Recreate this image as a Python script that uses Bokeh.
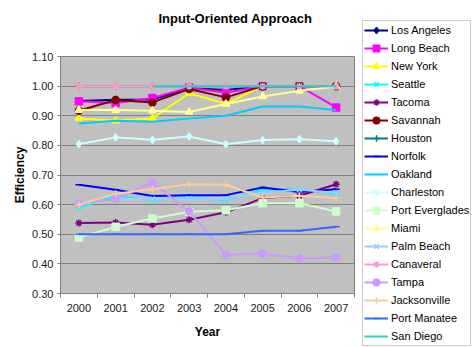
from bokeh.plotting import figure
from bokeh.layouts import row, column
from bokeh.models import Range1d, FixedTicker, Legend, LegendItem, NumeralTickFormatter, Title
from bokeh.embed import file_html
from bokeh.resources import INLINE

nan = float("nan")
years = [2000, 2001, 2002, 2003, 2004, 2005, 2006, 2007]
y_ticks = [0.30, 0.40, 0.50, 0.60, 0.70, 0.80, 0.90, 1.00, 1.10]

los_angeles = [0.950, 0.954, 0.955, 0.993, 0.987, 1.000, 1.000, 1.000]
long_beach = [0.949, 0.943, 0.960, 0.995, 0.978, 1.000, 1.000, 0.928]
new_york = [0.891, 0.883, 0.891, 0.976, 0.940, 1.000, 1.000, 1.000]
seattle = [0.590, 0.630, 0.616, 0.624, 0.615, 0.650, 0.652, 0.637]
tacoma = [0.538, 0.540, 0.532, 0.549, 0.574, 0.622, 0.630, 0.669]
savannah = [0.917, 0.953, 0.945, 0.990, 0.962, 1.000, 1.000, 1.000]
houston = [1.000, 1.000, 1.000, 1.000, 1.000, 1.000, 1.000, 1.000]
norfolk = [0.667, 0.650, 0.629, 0.632, 0.632, 0.658, 0.643, 0.652]
oakland = [0.874, 0.883, 0.880, 0.891, 0.900, 0.931, 0.931, 0.919]
charleston = [0.804, 0.827, 0.819, 0.830, 0.804, 0.818, 0.821, 0.814]
port_everglades = [0.489, 0.525, 0.553, 0.576, 0.581, 0.605, 0.605, 0.577]
miami = [0.919, 0.919, 0.917, 0.913, 0.940, 0.965, 0.984, 0.999]
palm_beach = [0.600, 0.620, 0.620, 0.620, 0.620, 0.640, 0.650, 0.640]
canaveral = [1.000, 1.000, 1.000, 1.000, 1.000, 1.000, 1.000, 1.000]
tampa = [0.605, 0.619, 0.675, 0.577, 0.431, 0.435, 0.418, 0.422]
jacksonville = [0.600, 0.637, 0.652, 0.669, 0.667, 0.624, 0.630, 0.622]
port_manatee = [0.500, 0.500, 0.500, 0.500, 0.500, 0.512, 0.512, 0.525]
san_diego = [nan, nan, 1.000, 1.000, 1.000, 1.000, 1.000, 1.000]

series = [
    ("Los Angeles", los_angeles, "#000080", "diamond"),
    ("Long Beach", long_beach, "#FF00FF", "square"),
    ("New York", new_york, "#FFFF00", "triangle"),
    ("Seattle", seattle, "#00FFFF", "x"),
    ("Tacoma", tacoma, "#800080", "asterisk"),
    ("Savannah", savannah, "#800000", "circle"),
    ("Houston", houston, "#008080", "cross"),
    ("Norfolk", norfolk, "#0000FF", "dash"),
    ("Oakland", oakland, "#00CCFF", None),
    ("Charleston", charleston, "#CCFFFF", "diamond"),
    ("Port Everglades", port_everglades, "#CCFFCC", "square"),
    ("Miami", miami, "#FFFF99", "triangle"),
    ("Palm Beach", palm_beach, "#99CCFF", "x"),
    ("Canaveral", canaveral, "#FF99CC", "asterisk"),
    ("Tampa", tampa, "#CC99FF", "circle"),
    ("Jacksonville", jacksonville, "#FFCC99", "cross"),
    ("Port Manatee", port_manatee, "#3366FF", "dash"),
    ("San Diego", san_diego, "#33CCCC", None),
]

FONT = "Liberation Sans"

p = figure(width=360, height=347, output_backend="svg", toolbar_location=None,
           x_range=Range1d(1999.5, 2007.5), y_range=Range1d(0.30, 1.10),
           min_border_left=60, min_border_right=6, min_border_top=0, min_border_bottom=54,
           background_fill_color="#C0C0C0", border_fill_color="white")

# spacer title next to the frame (keeps the real title high up)
spacer = Title(text=" ", text_font=FONT, text_font_size="13px", standoff=3)
p.add_layout(spacer, "above")

p.title.text = "Input-Oriented Approach"
p.title.align = "left"
p.title.offset = 98
p.title.vertical_align = "middle"
p.title.standoff = 19
p.title.text_font = FONT
p.title.text_font_size = "13px"
p.title.text_font_style = "bold"
p.title.text_color = "#000000"

p.outline_line_color = "#808080"
p.xgrid.grid_line_color = None
p.ygrid.grid_line_color = "#808080"
p.ygrid.grid_line_width = 1

p.xaxis.ticker = FixedTicker(ticks=years, minor_ticks=[1999.5, 2000.5, 2001.5, 2002.5, 2003.5, 2004.5, 2005.5, 2006.5, 2007.5])
p.yaxis.ticker = FixedTicker(ticks=y_ticks)
p.yaxis.formatter = NumeralTickFormatter(format="0.00")

for ax in (p.xaxis, p.yaxis):
    ax.axis_line_color = "#808080"
    ax.major_label_text_font = FONT
    ax.major_label_text_font_size = "11px"
    ax.major_label_text_color = "#1a1a1a"
    ax.axis_label_text_font = FONT
    ax.axis_label_text_font_size = "12px"
    ax.axis_label_text_font_style = "bold"
    ax.axis_label_text_color = "#000000"

p.xaxis.axis_label = "Year"
p.xaxis.major_tick_line_color = None
p.xaxis.minor_tick_line_color = "#808080"
p.xaxis.minor_tick_out = 4
p.xaxis.minor_tick_in = 0
p.xaxis.major_label_standoff = 4
p.xaxis.axis_label_standoff = 10

p.yaxis.axis_label = "Efficiency"
p.yaxis.major_tick_line_color = "#808080"
p.yaxis.major_tick_out = 3
p.yaxis.major_tick_in = 0
p.yaxis.minor_tick_line_color = None
p.yaxis.major_label_standoff = 4
p.yaxis.axis_label_standoff = 2

# legend lives in a separate figure to the right (its data lies outside its view)
p2 = figure(width=114, height=347, output_backend="svg", toolbar_location=None,
            x_range=Range1d(0, 1), y_range=Range1d(0, 1),
            x_axis_type=None, y_axis_type=None,
            min_border_left=0, min_border_right=0, min_border_top=0, min_border_bottom=0,
            outline_line_color=None, background_fill_color="white", border_fill_color="white")

items = []
for name, vals, color, marker in series:
    p.line(years, vals, line_color=color, line_width=2)
    rs = [p2.line(years, vals, line_color=color, line_width=2)]
    if marker is not None:
        p.scatter(years, vals, marker=marker, size=7, line_color=color,
                  fill_color=color, line_width=1.5)
        rs.append(p2.scatter(years, vals, marker=marker, size=7, line_color=color,
                             fill_color=color, line_width=1.5))
    items.append(LegendItem(label=name, renderers=rs))

legend = Legend(items=items, location=(2, 1))
legend.label_text_font = FONT
legend.label_text_font_size = "11px"
legend.label_text_color = "#000000"
legend.glyph_width = 24
legend.glyph_height = 16
legend.label_height = 16
legend.spacing = 2
legend.padding = 1
legend.margin = 0
legend.label_standoff = 3
legend.border_line_color = "#9a9a9a"
legend.background_fill_color = "white"
legend.background_fill_alpha = 1.0
p2.add_layout(legend, "center")

layout = row(p, column(p2, spacing=0), spacing=0)
open("out.html", "w").write(file_html(layout, INLINE))
